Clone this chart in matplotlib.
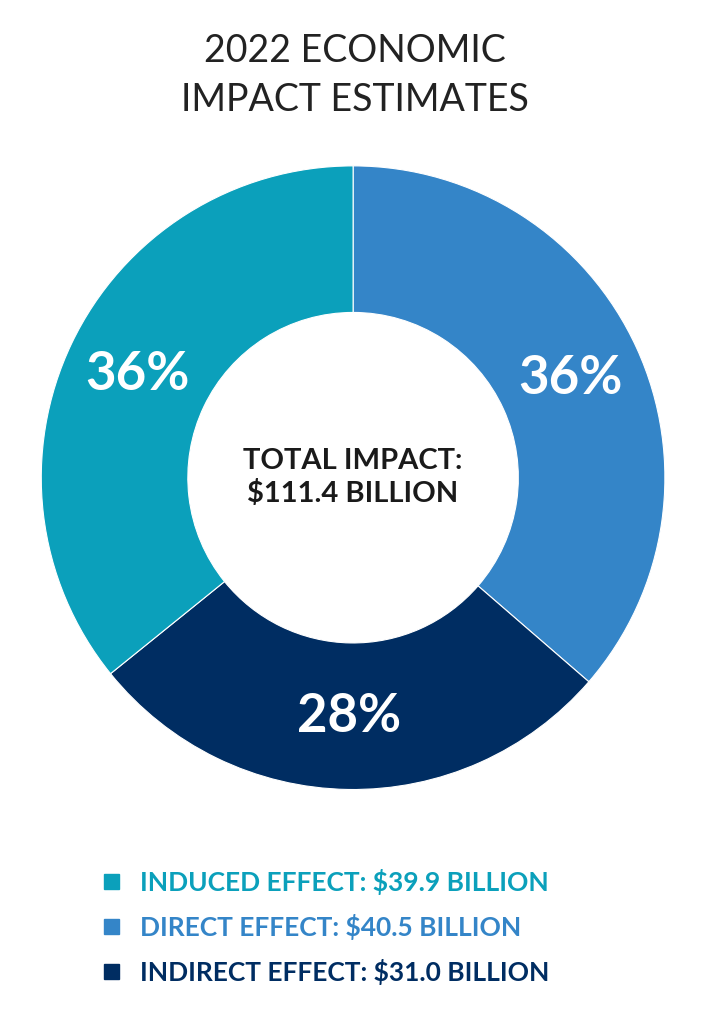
import matplotlib
matplotlib.use('Agg')
import matplotlib.pyplot as plt
import numpy as np

labels = ['DIRECT EFFECT', 'INDIRECT EFFECT', 'INDUCED EFFECT']
values = [40.5, 31.0, 39.9]
pct_text = ['36%', '28%', '36%']
colors = ['#3485C8', '#002D62', '#0BA0BB']

plt.rcParams['font.family'] = ['Lato', 'DejaVu Sans']

fig = plt.figure(figsize=(7.09, 10.24), dpi=100)
ax = fig.add_axes([0.058, 0.229, 0.88, 0.609])
wedges, _ = ax.pie(values, colors=colors, startangle=90, counterclock=False,
                   wedgeprops=dict(width=0.47, edgecolor='white', linewidth=0.8))
ax.set_xlim(-1, 1)
ax.set_ylim(-1, 1)
ax.set_aspect('equal')

total = sum(values)
start = 90
for v, t in zip(values, pct_text):
    mid = np.deg2rad(start - v / total * 360 / 2)
    start -= v / total * 360
    r = 0.765
    ax.text(r * np.cos(mid), r * np.sin(mid), t, color='white', fontsize=38,
            fontweight='bold', ha='center', va='center')
ax.text(0, 0, 'TOTAL IMPACT:\n$111.4 BILLION', ha='center', va='center',
        fontsize=21, fontweight='bold', color='#1a1a1a', linespacing=1.3)

fig.text(0.5, 0.950, '2022 ECONOMIC', ha='center', va='center', fontsize=27, color='#222222')
fig.text(0.5, 0.902, 'IMPACT ESTIMATES', ha='center', va='center', fontsize=27, color='#222222')

legend_order = [2, 0, 1]
ys = [882, 927, 972]
for i, y in zip(legend_order, ys):
    yf = 1 - y / 1024
    fig.patches.append(plt.Rectangle((104 / 709, yf - 7 / 1024), 15 / 709, 15 / 1024,
                                     transform=fig.transFigure, color=colors[i]))
    fig.text(140 / 709, yf, f'{labels[i]}: ${values[i]:.1f} BILLION', ha='left', va='center',
             fontsize=19, fontweight='bold', color=colors[i])

fig.savefig('out.png', dpi=100, facecolor='white')
